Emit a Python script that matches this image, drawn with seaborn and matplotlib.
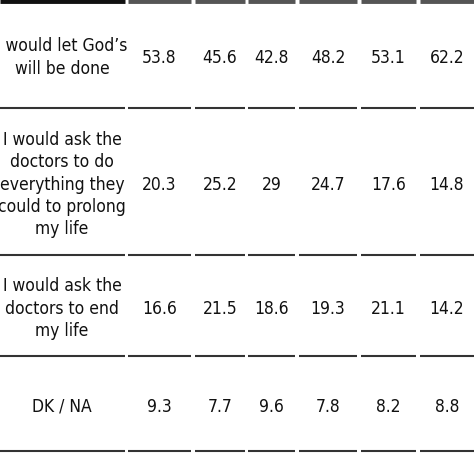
import matplotlib
matplotlib.use("Agg")
import matplotlib.pyplot as plt
import seaborn as sns

row_labels = [
    "I would let God’s\nwill be done",
    "I would ask the\ndoctors to do\neverything they\ncould to prolong\nmy life",
    "I would ask the\ndoctors to end\nmy life",
    "DK / NA",
]
values = [
    ["53.8", "45.6", "42.8", "48.2", "53.1", "62.2"],
    ["20.3", "25.2", "29", "24.7", "17.6", "14.8"],
    ["16.6", "21.5", "18.6", "19.3", "21.1", "14.2"],
    ["9.3", "7.7", "9.6", "7.8", "8.2", "8.8"],
]

sns.set_theme(style="white")
plt.rcParams["font.family"] = ["DejaVu Sans"]

# layout in pixel units
col_edges = [(0, 125), (128, 191), (195, 245), (248, 295), (299, 357), (361, 416), (420, 474)]
row_lines = [1, 108, 255, 356, 451]

fig = plt.figure(figsize=(4.74, 4.74), dpi=100)
ax = fig.add_axes([0, 0, 1, 1])
ax.set_xlim(0, 474)
ax.set_ylim(474, 0)
ax.axis("off")

for i, y in enumerate(row_lines):
    for j, (x0, x1) in enumerate(col_edges):
        if i == 0:
            ax.plot([x0, x1], [y, y], color="#111111" if j == 0 else "#555555", lw=3.5, solid_capstyle="butt")
        else:
            ax.plot([x0, x1], [y, y], color="#333333", lw=1.5, solid_capstyle="butt")

for r, (label, vals) in enumerate(zip(row_labels, values)):
    yc = (row_lines[r] + row_lines[r + 1]) / 2 + 3
    ax.text(62, yc, label, ha="center", va="center", fontsize=12.5, fontstretch="condensed",
            linespacing=1.3, color="#111111")
    for j, v in enumerate(vals):
        x0, x1 = col_edges[j + 1]
        ax.text((x0 + x1) / 2, yc, v, ha="center", va="center", fontsize=12.5,
                fontstretch="condensed", color="#111111")

fig.savefig("out.png", dpi=100)
